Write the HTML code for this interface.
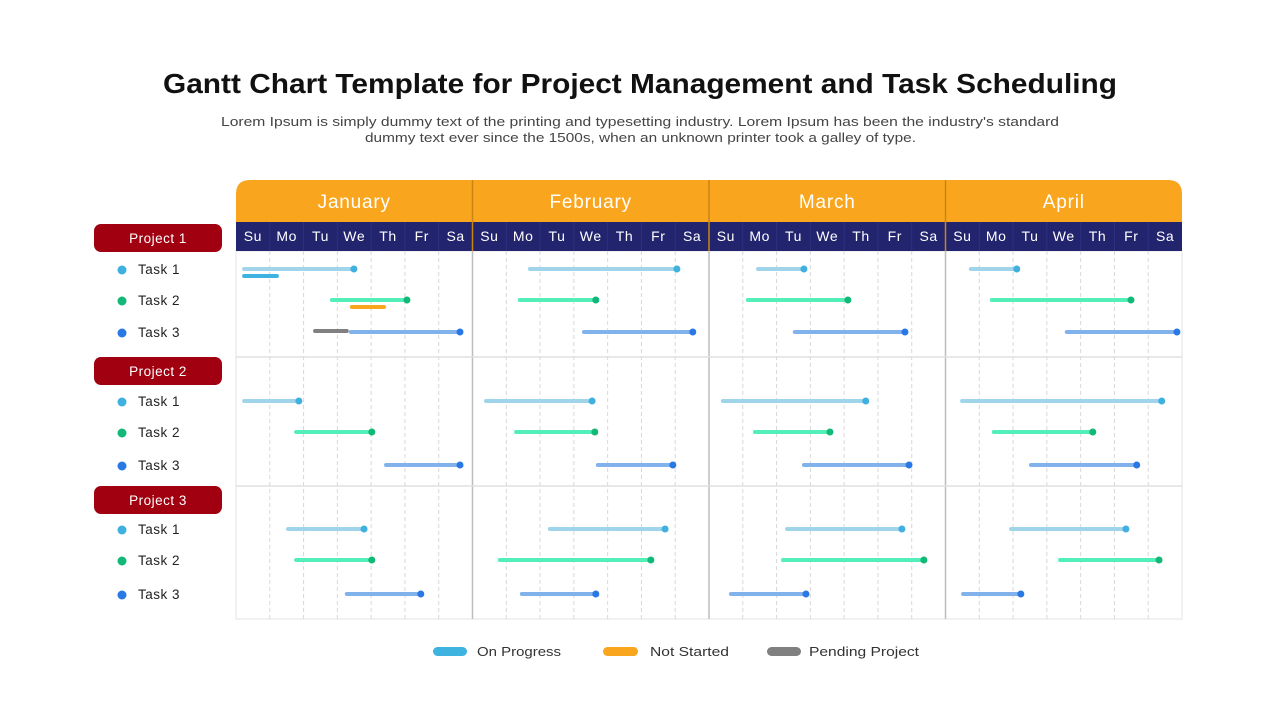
<!DOCTYPE html>
<html><head><meta charset="utf-8"><style>
body{margin:0;background:#fff;font-family:"Liberation Sans",sans-serif;}
</style></head><body>
<svg id="chart" width="1280" height="720" viewBox="0 0 1280 720" xmlns="http://www.w3.org/2000/svg" font-family="Liberation Sans, sans-serif">
<text x="163" y="93" textLength="954" lengthAdjust="spacingAndGlyphs" font-size="28" font-weight="bold" fill="#111">Gantt Chart Template for Project Management and Task Scheduling</text>
<text x="221" y="126" textLength="838" lengthAdjust="spacingAndGlyphs" font-size="13" fill="#444">Lorem Ipsum is simply dummy text of the printing and typesetting industry. Lorem Ipsum has been the industry's standard</text>
<text x="365" y="142" textLength="551" lengthAdjust="spacingAndGlyphs" font-size="13" fill="#444">dummy text ever since the 1500s, when an unknown printer took a galley of type.</text>
<g id="grid"></g><g id="bars"></g><g id="labels"></g>
<g>
<rect x="433" y="647" width="34" height="9" rx="4.5" fill="#3fb3e0"/>
<text x="477" y="656" textLength="84" lengthAdjust="spacingAndGlyphs" font-size="13" fill="#333">On Progress</text>
<rect x="603" y="647" width="35" height="9" rx="4.5" fill="#f9a61e"/>
<text x="650" y="656" textLength="79" lengthAdjust="spacingAndGlyphs" font-size="13" fill="#333">Not Started</text>
<rect x="767" y="647" width="34" height="9" rx="4.5" fill="#808080"/>
<text x="809" y="656" textLength="110" lengthAdjust="spacingAndGlyphs" font-size="13" fill="#333">Pending Project</text>
</g>
</svg>
<script>
const months=["January","February","March","April"];
const dayLabels=["Su","Mo","Tu","We","Th","Fr","Sa"];
const projects=["Project 1","Project 2","Project 3"];
const taskNames=["Task 1","Task 2","Task 3"];
// [project, task, startDay, endDay]
const tasks=[
[0,0,0.24,3.49],[0,1,2.84,5.06],[0,2,3.40,6.63],
[0,0,8.70,13.05],[0,1,8.40,10.65],[0,2,10.30,13.52],
[0,0,15.45,16.81],[0,1,15.15,18.11],[0,2,16.54,19.80],
[0,0,21.75,23.11],[0,1,22.37,26.49],[0,2,24.59,27.85],
[1,0,0.24,1.86],[1,1,1.78,4.02],[1,2,4.44,6.63],
[1,0,7.40,10.54],[1,1,8.29,10.62],[1,2,10.71,12.93],
[1,0,14.41,18.64],[1,1,15.36,17.58],[1,2,16.81,19.92],
[1,0,21.49,27.40],[1,1,22.43,25.36],[1,2,23.53,26.66],
[2,0,1.54,3.79],[2,1,1.78,4.02],[2,2,3.28,5.47],
[2,0,9.29,12.70],[2,1,7.81,12.28],[2,2,8.46,10.65],
[2,0,16.31,19.71],[2,1,16.19,20.36],[2,2,14.65,16.87],
[2,0,22.94,26.34],[2,1,24.39,27.32],[2,2,21.52,23.23]];
// status sub-bars: [project, task, start, end, status]
const statusBars=[[0,0,0.24,1.21,"progress"],[0,1,3.43,4.38,"notstarted"],[0,2,2.34,3.28,"pending"]];
const statusColor={progress:"#3fb3e0",notstarted:"#f9a61e",pending:"#808080"};
const statusOffset={progress:7,notstarted:7,pending:-1};
const X0=236,X1=1182,NDAYS=28;
const x=d=>X0+d*(X1-X0)/NDAYS;
const projBottom=619;
const rowY=(p,t)=>[[269,300,332],[401,432,465],[529,560,594]][p][t];
const lineCol=["#9fd4ea","#52f0b8","#82b2ec"],dotCol=["#3fb0e0","#12b877","#2a78e4"];
const NS="http://www.w3.org/2000/svg";
function mk(parent,tag,attrs){const e=document.createElementNS(NS,tag);for(const k in attrs)e.setAttribute(k,attrs[k]);parent.appendChild(e);return e;}
const grid=document.getElementById('grid'),bars=document.getElementById('bars'),labels=document.getElementById('labels');
const frame=mk(grid,'rect',{x:X0,y:251,width:X1-X0,height:projBottom-251,fill:'#fff',stroke:'#e3e3e3'});


for(let d=1;d<NDAYS;d++){
 const major=d%7===0;
 const l=mk(grid,'line',{x1:x(d),x2:x(d),y1:major?180:251,y2:projBottom,stroke:major?'#bdbdbd':'#d8d8d8','stroke-width':major?1.5:1,'stroke-dasharray':major?'':'4,3'});
 
 
}
[357,486].forEach(y=>{const l=mk(grid,'line',{x1:X0,x2:X1,y1:y,y2:y,stroke:'#e0e0e0','stroke-width':1.5});
 
 });
const hdr=mk(grid,'path',{d:`M${X0} 222 V194 Q${X0} 180 ${X0+14} 180 H${X1-14} Q${X1} 180 ${X1} 194 V222 Z`,fill:'#f9a61e'});


const nav=mk(grid,'rect',{x:X0,y:222,width:X1-X0,height:29,fill:'#23246e'});


months.forEach((m,i)=>{
 if(i>0){const l=mk(grid,'line',{x1:x(i*7),x2:x(i*7),y1:180,y2:251,stroke:'#c98512','stroke-width':1.5});
  
  }
 const t=mk(grid,'text',{x:x(i*7+3.5),y:208,'text-anchor':'middle','font-size':19,'letter-spacing':0.8,fill:'#fff'});t.textContent=m;
 
 
 dayLabels.forEach((dl,j)=>{
  const dt=mk(grid,'text',{x:x(i*7+j+0.5),y:241,'text-anchor':'middle','font-size':14,'letter-spacing':0.6,fill:'#fff'});dt.textContent=dl;
  
  
  if(j>0){const dl2=mk(grid,'line',{x1:x(i*7+j),x2:x(i*7+j),y1:222,y2:251,stroke:'#2e3080'});
   
   }
 });
});
projects.forEach((p,i)=>{
 const top=[224,357,486][i];
 const r=mk(labels,'rect',{x:94,y:top,width:128,height:28,rx:7,fill:'#a0000f'});
 
 
 const t=mk(labels,'text',{x:158,y:top+19,'text-anchor':'middle','font-size':13.5,'letter-spacing':0.5,fill:'#fff'});t.textContent=p;
 
 
 taskNames.forEach((tn,j)=>{
  const y=rowY(i,j);
  const c=mk(labels,'circle',{cx:122,cy:y+1,r:4.5,fill:dotCol[j]});
  
  
  const tt=mk(labels,'text',{x:138,y:y+5,'font-size':13.5,'letter-spacing':0.5,fill:'#222'});tt.textContent=tn;
  
  
 });
});
tasks.forEach(([p,t,s,e])=>{
 const y=rowY(p,t);
 const l=mk(bars,'line',{x1:x(s),x2:x(e),y1:y,y2:y,stroke:lineCol[t],'stroke-width':4,'stroke-linecap':'round'});
 
 
 const c=mk(bars,'circle',{cx:x(e),cy:y,r:3.5,fill:dotCol[t]});
 
 
});
statusBars.forEach(([p,t,s,e,st])=>{
 const y=rowY(p,t)+statusOffset[st];
 const l=mk(bars,'line',{x1:x(s),x2:x(e),y1:y,y2:y,stroke:statusColor[st],'stroke-width':4,'stroke-linecap':'round'});
 
 
});
</script>
</body></html>
